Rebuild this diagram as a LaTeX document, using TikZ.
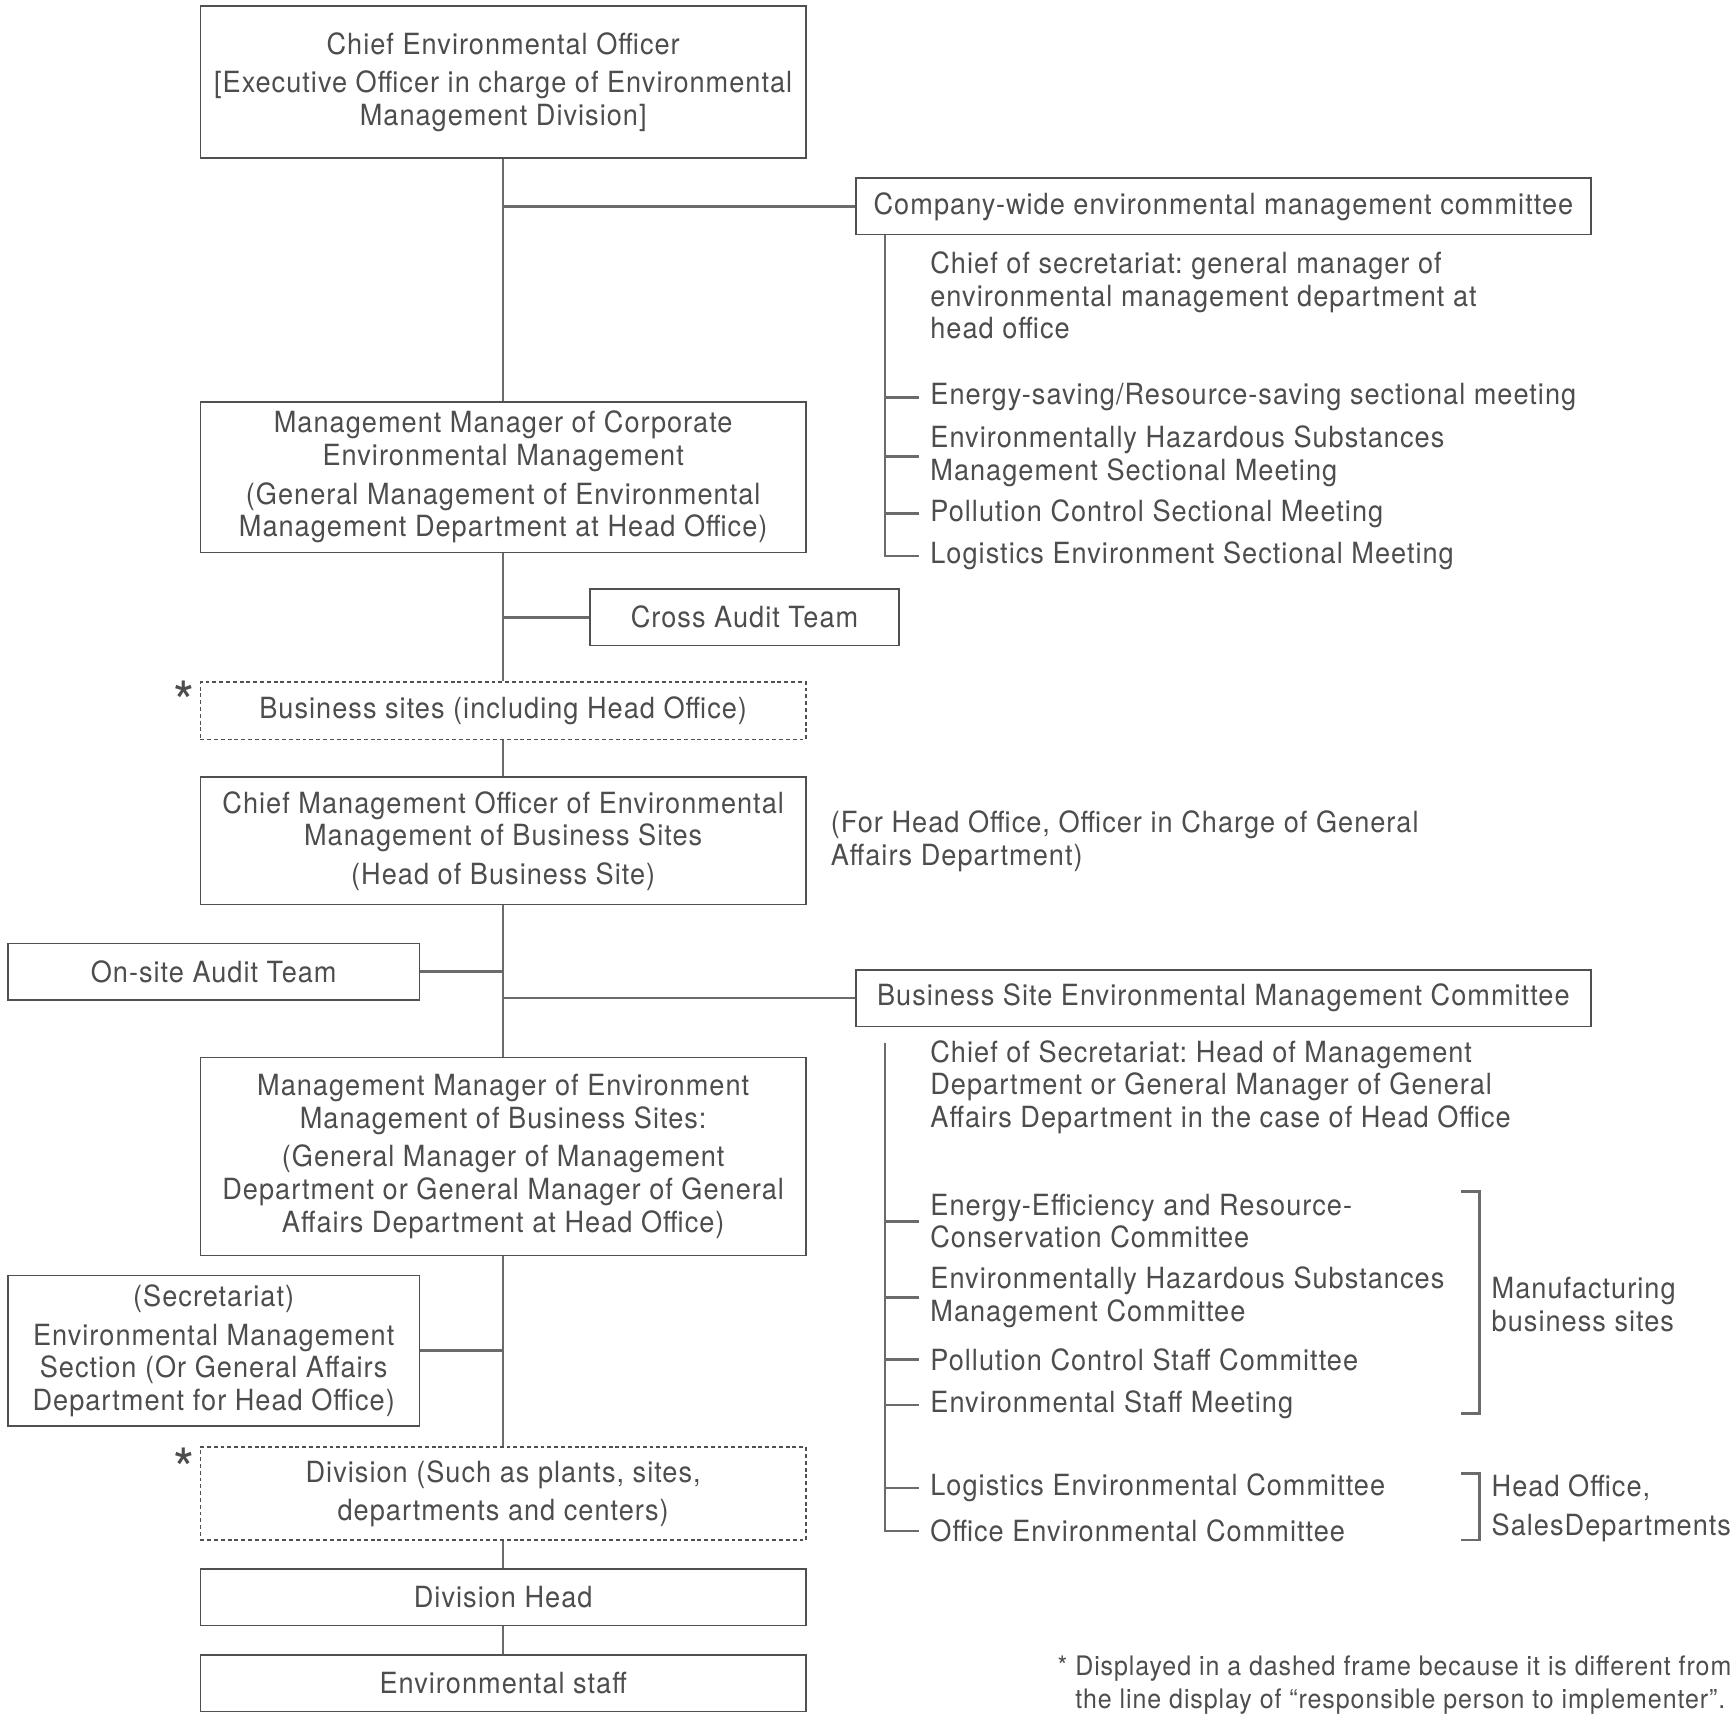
\documentclass[tikz,border=0pt]{standalone}
\usepackage{fontspec}
\setmainfont{TeX Gyre Heros}[FakeStretch=0.93,LetterSpace=3.5]
\usetikzlibrary{positioning}
\definecolor{textgray}{HTML}{4D4D4D}
\definecolor{linegray}{HTML}{6B6B6B}
\definecolor{boxgray}{HTML}{505050}
\newcommand{\chartfont}{\fontsize{15pt}{16.8pt}\selectfont}
\newcommand{\notefont}{\fontsize{13.8pt}{16.8pt}\selectfont}
\frenchspacing

\begin{document}
\begin{tikzpicture}[x=0.02cm,y=-0.02cm,
  box/.style={draw=boxgray,line width=0.8pt,text=textgray,align=center,inner sep=0pt,font=\chartfont},
  dbox/.style={box,dash pattern=on 2pt off 1.5pt},
  item/.style={text=textgray,align=left,anchor=west,inner xsep=0.2cm,inner ysep=0pt,font=\chartfont},
  link/.style={draw=linegray,line width=1.3pt},
  tick/.style={draw=linegray,line width=1.4pt}]
\useasboundingbox (0,0) rectangle (1568,1553);

% main column
\draw (454.5,74)    node (ceo)    [box,minimum width=10.94cm,minimum height=2.74cm]
  {Chief Environmental Officer\\[3pt][Executive Officer in charge of Environmental\\Management Division]};
\draw (1105,186.5)  node (cwc)    [box,minimum width=13.28cm,minimum height=1.02cm]
  {Company-wide environmental management committee};
\draw (454.5,431)   node (mmc)    [box,minimum width=10.94cm,minimum height=2.72cm]
  {Management Manager of Corporate\\Environmental Management\\[3pt](General Management of Environmental\\Management Department at Head Office)};
\draw (672.5,557.5) node (cross)  [box,minimum width=5.58cm,minimum height=1.02cm] {Cross Audit Team};
\draw (454.5,642)   node (bsites) [dbox,minimum width=10.94cm,minimum height=1.04cm] {Business sites (including Head Office)};
\draw (166,634)     node (ast1)   [text=textgray,font=\fontsize{30pt}{30pt}\selectfont] {*};
\draw (454.5,759.5) node (cmo)    [box,minimum width=10.94cm,minimum height=2.30cm]
  {Chief Management Officer of Environmental\\Management of Business Sites\\[3pt](Head of Business Site)};
\draw (740,760)     node (honote) [item] {(For Head Office, Officer in Charge of General\\Affairs Department)};
\draw (193,877.5)   node (onsite) [box,minimum width=7.44cm,minimum height=1.02cm] {On-site Audit Team};
\draw (1105,901.5)  node (bsc)    [box,minimum width=13.28cm,minimum height=1.02cm]
  {Business Site Environmental Management Committee};
\draw (454.5,1044.5) node (mme)   [box,minimum width=10.94cm,minimum height=3.58cm]
  {Management Manager of Environment\\Management of Business Sites:\\[3pt](General Manager of Management\\Department or General Manager of General\\Affairs Department at Head Office)};
\draw (193,1220)    node (secr)   [box,minimum width=7.44cm,minimum height=2.72cm]
  {(Secretariat)\\[3pt]Environmental Management\\Section (Or General Affairs\\Department for Head Office)};
\draw (454.5,1349)  node (div)    [dbox,minimum width=10.94cm,minimum height=1.68cm]
  {Division (Such as plants, sites,\\[3pt]departments and centers)};
\draw (166,1327)    node (ast2)   [text=textgray,font=\fontsize{30pt}{30pt}\selectfont] {*};
\draw (454.5,1442.5) node (dhead) [box,minimum width=10.94cm,minimum height=1.02cm] {Division Head};
\draw (454.5,1520.5) node (staff) [box,minimum width=10.94cm,minimum height=1.02cm] {Environmental staff};

\draw[link] (ceo) -- (mmc);
\draw[link] (cwc.west) -- (cwc.west -| ceo.south);
\draw[link] (mmc) -- (bsites);
\draw[link] (cross.west) -- (cross.west -| mmc.south);
\draw[link] (bsites) -- (cmo);
\draw[link] (cmo) -- (mme);
\draw[link] (onsite.east) -- (onsite.east -| cmo.south);
\draw[link] (bsc.west) -- (bsc.west -| cmo.south);
\draw[link] (mme) -- (div);
\draw[link] (secr.east) -- (secr.east -| mme.south);
\draw[link] (div) -- (dhead);
\draw[link] (dhead) -- (staff);

% company-wide committee members
\coordinate (cbar) at ([xshift=0.54cm]cwc.south west);
\draw (830,267) node (csec) [item] {Chief of secretariat: general manager of\\environmental management department at\\head office};
\draw (830,359) node (cm1)  [item] {Energy-saving/Resource-saving sectional meeting};
\draw (830,412) node (cm2)  [item] {Environmentally Hazardous Substances\\Management Sectional Meeting};
\draw (830,464) node (cm3)  [item] {Pollution Control Sectional Meeting};
\draw (830,502) node (cm4)  [item] {Logistics Environment Sectional Meeting};
\draw[link] (cbar) |- (cm4.west);
\foreach \n in {cm1,cm2,cm3} \draw[tick] (cbar |- \n.west) -- (\n.west);

% business site committee members
\coordinate (bbar) at ([xshift=0.54cm,yshift=-0.28cm]bsc.south west);
\draw (830,982)  node (bsec) [item] {Chief of Secretariat: Head of Management\\Department or General Manager of General\\Affairs Department in the case of Head Office};
\draw (830,1103) node (bm1)  [item] {Energy-Efficiency and Resource-\\Conservation Committee};
\draw (830,1172) node (bm2)  [item] {Environmentally Hazardous Substances\\Management Committee};
\draw (830,1228) node (bm3)  [item] {Pollution Control Staff Committee};
\draw (830,1269) node (bm4)  [item] {Environmental Staff Meeting};
\draw (830,1344) node (bm5)  [item] {Logistics Environmental Committee};
\draw (830,1383) node (bm6)  [item] {Office Environmental Committee};
\draw[link] (bbar) |- (bm6.west);
\foreach \n in {bm1,bm2,bm3,bm4,bm5} \draw[tick] (bbar |- \n.west) -- (\n.west);

% brackets
\draw (1347,1178.5) node (mfg)  [item,inner xsep=0pt] {Manufacturing\\business sites};
\draw[tick] (1320,1076) -- (1336,1076) -- (1336,1277) -- (1320,1277);
\draw (1347,1362.5) node (hosd) [item,inner xsep=0pt] {Head Office,\\[3pt]SalesDepartments};
\draw[tick] (1320,1331) -- (1336,1331) -- (1336,1391) -- (1320,1391);

% footnote
\draw (955,1522) node (fnote) [item,inner xsep=0pt,font=\notefont]
  {*\ Displayed in a dashed frame because it is different from\\\phantom{*\ }the line display of “responsible person to implementer”.};
\end{tikzpicture}
\end{document}
